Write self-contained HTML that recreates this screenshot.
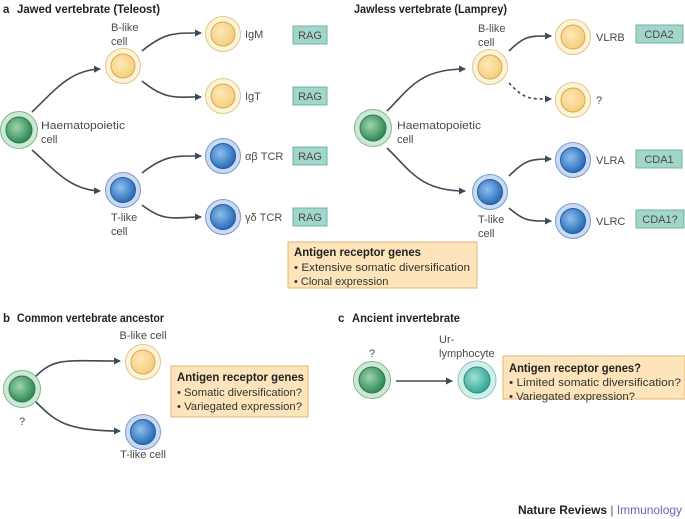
<!DOCTYPE html>
<html><head><meta charset="utf-8"><style>
html,body{margin:0;padding:0;background:#fff;}
svg{display:block;font-family:"Liberation Sans",sans-serif;}
.t{font-size:11px;fill:#4a4a4a;}
.h{font-size:11.5px;font-weight:bold;fill:#222;}
.bx{font-size:11px;fill:#333;}
.a{stroke:#3f4b55;stroke-width:1.6;fill:none;}
</style></head><body>
<svg width="685" height="519" viewBox="0 0 685 519">
<defs>
<radialGradient id="gi" cx="0.4" cy="0.4" r="0.6"><stop offset="0" stop-color="#9fd4b0"/><stop offset="1" stop-color="#2f8a55"/></radialGradient>
<radialGradient id="yi" cx="0.4" cy="0.4" r="0.6"><stop offset="0" stop-color="#fde8b5"/><stop offset="1" stop-color="#f5cf80"/></radialGradient>
<radialGradient id="bi" cx="0.4" cy="0.4" r="0.6"><stop offset="0" stop-color="#8ec0ee"/><stop offset="1" stop-color="#2a6cb8"/></radialGradient>
<radialGradient id="ti" cx="0.4" cy="0.4" r="0.6"><stop offset="0" stop-color="#9ee0d4"/><stop offset="1" stop-color="#36a898"/></radialGradient>
<marker id="ar" markerWidth="8" markerHeight="8" refX="6" refY="4" orient="auto" markerUnits="userSpaceOnUse"><path d="M0,0.5 L7,4 L0,7.5 Z" fill="#3f4b55"/></marker>
<g id="G"><circle r="18.5" fill="#cfe8d6" stroke="#7cb890" stroke-width="1"/><circle r="13" fill="url(#gi)" stroke="#2c7a4c" stroke-width="1"/></g>
<g id="Y"><circle r="17.5" fill="#fdf3d8" stroke="#e2c68a" stroke-width="1"/><circle r="12" fill="url(#yi)" stroke="#d9a850" stroke-width="1"/></g>
<g id="B"><circle r="17.5" fill="#c9daf2" stroke="#7a9ccc" stroke-width="1"/><circle r="12.5" fill="url(#bi)" stroke="#255c9c" stroke-width="1"/></g>
<g id="T"><circle r="19" fill="#d2efe9" stroke="#86c4b8" stroke-width="1"/><circle r="13" fill="url(#ti)" stroke="#2c8a7c" stroke-width="1"/></g>
</defs>

<!-- Panel a left -->
<text x="3" y="13" class="h">a</text><text x="17" y="13" class="h" textLength="143" lengthAdjust="spacingAndGlyphs">Jawed vertebrate (Teleost)</text>
<path class="a" d="M32,112 C55,90 70,70 100,69" marker-end="url(#ar)"/>
<path class="a" d="M32,150 C55,170 70,190 100,191" marker-end="url(#ar)"/>
<path class="a" d="M142,51 C165,32 175,33 201,33" marker-end="url(#ar)"/>
<path class="a" d="M142,81 C165,100 175,97 201,97" marker-end="url(#ar)"/>
<path class="a" d="M142,173 C165,155 175,156 201,156" marker-end="url(#ar)"/>
<path class="a" d="M142,205 C165,223 175,217 201,217" marker-end="url(#ar)"/>
<use href="#G" x="19" y="130"/>
<use href="#Y" x="123" y="66"/>
<use href="#B" x="123" y="190"/>
<use href="#Y" x="223" y="34"/>
<use href="#Y" x="223" y="96"/>
<use href="#B" x="223" y="156"/>
<use href="#B" x="223" y="217"/>
<text x="41" y="129" class="t" textLength="84" lengthAdjust="spacingAndGlyphs">Haematopoietic</text><text x="41" y="143" class="t">cell</text>
<text x="111" y="31" class="t">B-like</text><text x="111" y="45" class="t">cell</text>
<text x="111" y="221" class="t">T-like</text><text x="111" y="235" class="t">cell</text>
<text x="245" y="38" class="t">IgM</text>
<text x="245" y="100" class="t">IgT</text>
<text x="245" y="160" class="t">αβ TCR</text>
<text x="245" y="221" class="t">γδ TCR</text>
<g fill="#a3d6ca" stroke="#6cb3a4"><rect x="293" y="26" width="34" height="18"/><rect x="293" y="87" width="34" height="18"/><rect x="293" y="147" width="34" height="18"/><rect x="293" y="208" width="34" height="18"/></g>
<g class="t" text-anchor="middle"><text x="310" y="39">RAG</text><text x="310" y="100">RAG</text><text x="310" y="160">RAG</text><text x="310" y="221">RAG</text></g>

<!-- Panel a right -->
<text x="354" y="13" class="h" textLength="153" lengthAdjust="spacingAndGlyphs">Jawless vertebrate (Lamprey)</text>
<path class="a" d="M387,111 C410,88 420,69 465,69" marker-end="url(#ar)"/>
<path class="a" d="M387,148 C410,170 420,191 465,191" marker-end="url(#ar)"/>
<path class="a" d="M509,51 C525,35 530,36 551,36" marker-end="url(#ar)"/>
<path class="a" d="M509,83 C525,100 530,99 551,99" stroke-dasharray="3,3" marker-end="url(#ar)"/>
<path class="a" d="M509,176 C525,160 530,159 551,159" marker-end="url(#ar)"/>
<path class="a" d="M509,208 C525,222 530,221 551,221" marker-end="url(#ar)"/>
<use href="#G" x="373" y="128"/>
<use href="#Y" x="490" y="67"/>
<use href="#B" x="490" y="192"/>
<use href="#Y" x="573" y="37"/>
<use href="#Y" x="573" y="100"/>
<use href="#B" x="573" y="160"/>
<use href="#B" x="573" y="221"/>
<text x="397" y="129" class="t" textLength="84" lengthAdjust="spacingAndGlyphs">Haematopoietic</text><text x="397" y="143" class="t">cell</text>
<text x="478" y="32" class="t">B-like</text><text x="478" y="46" class="t">cell</text>
<text x="478" y="223" class="t">T-like</text><text x="478" y="237" class="t">cell</text>
<text x="596" y="41" class="t">VLRB</text>
<text x="596" y="104" class="t">?</text>
<text x="596" y="164" class="t">VLRA</text>
<text x="596" y="225" class="t">VLRC</text>
<g fill="#a3d6ca" stroke="#6cb3a4"><rect x="636" y="25" width="47" height="18"/><rect x="636" y="150" width="46" height="18"/><rect x="636" y="210" width="48" height="18"/></g>
<g class="t" text-anchor="middle"><text x="659" y="38">CDA2</text><text x="659" y="163">CDA1</text><text x="660" y="223">CDA1?</text></g>

<rect x="288" y="242" width="189" height="46" fill="#fde4bb" stroke="#e2b575"/>
<text x="294" y="256" class="h" textLength="127" lengthAdjust="spacingAndGlyphs">Antigen receptor genes</text>
<text x="294" y="271" class="bx" textLength="176" lengthAdjust="spacingAndGlyphs">• Extensive somatic diversification</text>
<text x="294" y="285" class="bx">• Clonal expression</text>

<!-- Panel b -->
<text x="3" y="322" class="h">b</text><text x="17" y="322" class="h" textLength="147" lengthAdjust="spacingAndGlyphs">Common vertebrate ancestor</text>
<path class="a" d="M35,377 C55,357 65,361 120,361" marker-end="url(#ar)"/>
<path class="a" d="M35,401 C55,421 65,431 120,431" marker-end="url(#ar)"/>
<use href="#G" x="22" y="389"/>
<use href="#Y" x="143" y="362"/>
<use href="#B" x="143" y="432"/>
<text x="19" y="425" class="t">?</text>
<text x="143" y="339" class="t" text-anchor="middle">B-like cell</text>
<text x="143" y="458" class="t" text-anchor="middle">T-like cell</text>
<rect x="171" y="366" width="137" height="51" fill="#fde4bb" stroke="#e2b575"/>
<text x="177" y="381" class="h" textLength="127" lengthAdjust="spacingAndGlyphs">Antigen receptor genes</text>
<text x="177" y="396" class="bx" textLength="125" lengthAdjust="spacingAndGlyphs">• Somatic diversification?</text>
<text x="177" y="410" class="bx" textLength="125" lengthAdjust="spacingAndGlyphs">• Variegated expression?</text>

<!-- Panel c -->
<text x="338" y="322" class="h">c</text><text x="352" y="322" class="h" textLength="108" lengthAdjust="spacingAndGlyphs">Ancient invertebrate</text>
<text x="369" y="357" class="t">?</text>
<path class="a" d="M396,381 L452,381" marker-end="url(#ar)"/>
<use href="#G" x="372" y="380"/>
<use href="#T" x="477" y="380"/>
<text x="439" y="343" class="t">Ur-</text>
<text x="439" y="357" class="t">lymphocyte</text>
<rect x="503" y="356" width="182" height="43" fill="#fde4bb" stroke="#e2b575"/>
<text x="509" y="372" class="h" textLength="132" lengthAdjust="spacingAndGlyphs">Antigen receptor genes?</text>
<text x="509" y="386" class="bx" textLength="172" lengthAdjust="spacingAndGlyphs">• Limited somatic diversification?</text>
<text x="509" y="400" class="bx" textLength="126" lengthAdjust="spacingAndGlyphs">• Variegated expression?</text>

<text x="682" y="514" text-anchor="end" style="font-size:12px;" textLength="164" lengthAdjust="spacingAndGlyphs"><tspan fill="#222" font-weight="bold">Nature Reviews</tspan><tspan fill="#555"> | </tspan><tspan fill="#6b63b5">Immunology</tspan></text>
</svg>
</body></html>
